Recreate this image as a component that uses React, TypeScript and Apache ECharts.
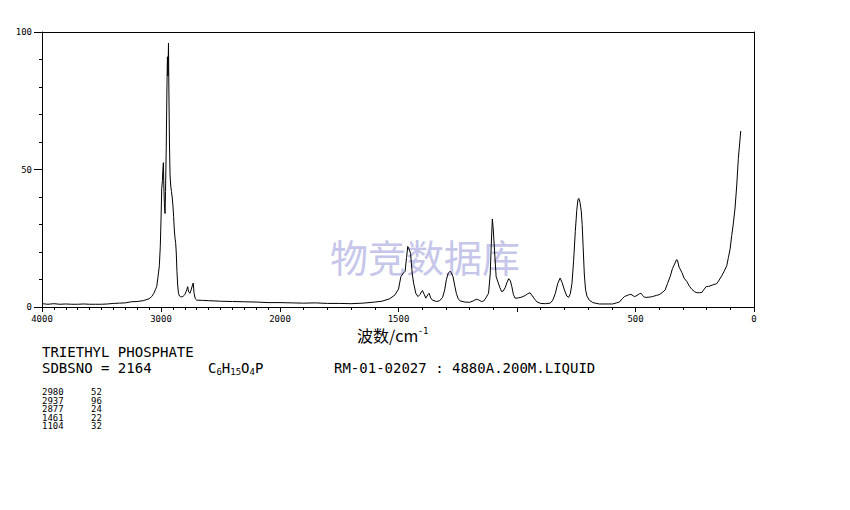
import React, { useEffect, useRef } from "react";
import * as echarts from "echarts";

// Raman spectrum of triethyl phosphate: [wavenumber cm-1, intensity]
const upperSpectrum: [number, number][] = [
  [4000, 1.2], [3950, 1.0], [3900, 1.2], [3850, 1.0], [3800, 1.1], [3750, 1.0], [3700, 1.0],
  [3650, 1.1], [3600, 1.0], [3550, 1.0], [3500, 1.0], [3450, 1.1], [3400, 1.3], [3350, 1.4],
  [3300, 1.5], [3250, 1.9], [3200, 2.0], [3150, 2.3], [3100, 3.0], [3078, 3.8], [3060, 5.0],
  [3045, 6.5], [3036, 7.4], [3025, 11], [3014, 15], [3006, 22], [3000, 31.6], [2994, 43],
  [2988, 46], [2984, 50], [2980, 52.5], [2976, 44], [2972, 38], [2966, 34], [2962, 42],
  [2956, 58], [2950, 80], [2946, 91], [2942, 84], [2937, 96], [2934, 80], [2929, 60],
  [2924, 48], [2918, 44], [2912, 42], [2906, 40], [2900, 37], [2894, 33], [2888, 28],
  [2882, 25], [2877, 23.5], [2872, 20], [2866, 13], [2860, 8], [2853, 5], [2845, 4],
  [2835, 3.7], [2826, 3.7], [2812, 4.0], [2800, 4.5], [2790, 5.5], [2782, 6.5], [2776, 7.4],
  [2768, 5.5], [2756, 5.0], [2745, 6.5], [2735, 8.0], [2729, 8.7], [2722, 5.0], [2712, 3.0],
  [2700, 2.5], [2650, 2.4], [2600, 2.3], [2500, 2.1], [2400, 2.0], [2300, 1.9], [2200, 1.8],
  [2100, 1.6], [2000, 1.6],
];

const lowerSpectrum: [number, number][] = [
  [2000, 1.6], [1950, 1.5], [1900, 1.4], [1850, 1.5], [1800, 1.3], [1750, 1.3], [1700, 1.2],
  [1650, 1.4], [1600, 1.8], [1570, 2.1], [1537, 3.0], [1515, 4.4], [1500, 6.5], [1490, 11],
  [1480, 12.3], [1472, 13], [1466, 18], [1461, 22], [1455, 21], [1449, 19.5], [1442, 12],
  [1436, 8.6], [1427, 5], [1418, 3.8], [1410, 4.5], [1399, 6], [1391, 4.5], [1385, 3.2],
  [1376, 4.5], [1371, 5], [1364, 3.3], [1357, 2.5], [1340, 2.0], [1326, 2.3], [1314, 3.5],
  [1305, 6.2], [1298, 10], [1290, 12.3], [1283, 13], [1277, 12.5], [1270, 11], [1262, 7.5],
  [1256, 5], [1248, 3], [1240, 2.2], [1220, 1.8], [1200, 1.7], [1185, 2.2], [1172, 2.8],
  [1162, 2.6], [1150, 2.0], [1140, 2.2], [1130, 3.5], [1120, 5], [1113, 12], [1108, 24],
  [1104, 32], [1100, 28], [1095, 20.7], [1088, 11], [1080, 9], [1072, 7], [1065, 5.6],
  [1058, 5.8], [1050, 7], [1042, 9], [1035, 10.3], [1028, 9.5], [1022, 7.5], [1015, 4.5],
  [1008, 3.2], [995, 3.3], [980, 3.6], [965, 4.2], [955, 4.8], [945, 5.2], [935, 4],
  [925, 2.8], [915, 1.8], [900, 1.3], [880, 1.2], [860, 1.4], [849, 2.5], [838, 5],
  [828, 8.6], [818, 10.5], [810, 9], [800, 6.2], [790, 4], [782, 3.5], [775, 4.8], [768, 8.6],
  [761, 17], [754, 27.5], [748, 35], [743, 39], [739, 39.5], [734, 38], [729, 35], [725, 30],
  [721, 22], [716, 12], [711, 6.5], [705, 4], [695, 2.5], [680, 1.6], [653, 1.1], [620, 1.1],
  [597, 1.1], [580, 1.5], [568, 1.8], [556, 3.0], [547, 3.8], [535, 4.2], [526, 4.5],
  [519, 4.6], [510, 4.1], [505, 3.8], [498, 4.0], [490, 4.4], [484, 4.8], [477, 5.0],
  [470, 4.2], [463, 3.6], [456, 3.5], [440, 3.6], [428, 3.8], [412, 4.2], [400, 4.5],
  [388, 5.2], [375, 6.2], [365, 8.5], [354, 11], [344, 14], [333, 16], [327, 17.2], [323, 17],
  [316, 14.5], [304, 12.5], [295, 10.5], [283, 9.2], [272, 7.5], [262, 6.4], [250, 5.5],
  [241, 5.2], [230, 5.2], [220, 5.3], [210, 6.5], [202, 7.4], [192, 7.5], [175, 8], [157, 8.5],
  [147, 9.8], [135, 11.5], [126, 13], [115, 15], [108, 18], [101, 21], [94, 26], [87, 30.5],
  [80, 36], [73, 44], [66, 54], [56, 64],
];

const upperTickLabels = [4000, 3000];
const lowerTickLabels = [2000, 1500, 500, 0];
const yTickLabels = [0, 50, 100];

const peakWavenumbers = ["2980", "2937", "2877", "1461", "1104"];
const peakIntensities = ["52", "96", "24", "22", "32"];

const compoundName = "TRIETHYL PHOSPHATE";
const sdbsLine = "SDBSNO = 2164";
const formulaRich = "C{s|6}H{s|15}O{s|4}P";
const conditionLine = "RM-01-02027 : 4880A.200M.LIQUID";
const axisTitle = "波数/cm{sup|-1}";
const watermark = "物竞数据库";

const MONO = "'DejaVu Sans Mono', monospace";
const CJK = "'Noto Sans CJK SC', sans-serif";

const labelStyle = {
  fontSize: 9,
  fontFamily: MONO,
  color: "#000",
};

export default function App() {
  const ref = useRef<HTMLDivElement>(null);

  useEffect(() => {
    if (!ref.current) return;
    const chart = echarts.init(ref.current, undefined, { renderer: "svg" });

    const bottomAxisBase = {
      type: "value",
      position: "bottom",
      inverse: true,
      axisLine: { show: true, onZero: false, lineStyle: { color: "#000", width: 1 } },
      axisTick: { show: true, length: 5, lineStyle: { color: "#000", width: 1 } },
      minorTick: { show: true, length: 3, lineStyle: { color: "#000", width: 1 } },
      splitLine: { show: false },
      minorSplitLine: { show: false },
    };
    const topAxisBase = {
      type: "value",
      position: "top",
      inverse: true,
      axisLine: { show: true, onZero: false, lineStyle: { color: "#000", width: 1 } },
      axisTick: { show: false },
      axisLabel: { show: false },
      splitLine: { show: false },
    };

    const option: any = {
      animation: false,
      backgroundColor: "#fff",
      grid: [
        { left: 42, top: 32, width: 238, height: 275 },
        { left: 280, top: 32, width: 474, height: 275 },
      ],
      xAxis: [
        {
          ...bottomAxisBase,
          gridIndex: 0,
          min: 2000,
          max: 4000,
          interval: 1000,
          minorTick: { ...bottomAxisBase.minorTick, splitNumber: 10 },
          axisLabel: {
            ...labelStyle,
            margin: 7,
            showMinLabel: true,
            showMaxLabel: true,
            formatter: (v: number) => (upperTickLabels.includes(v) ? String(v) : ""),
          },
        },
        {
          ...bottomAxisBase,
          gridIndex: 1,
          min: 0,
          max: 2000,
          interval: 500,
          minorTick: { ...bottomAxisBase.minorTick, splitNumber: 5 },
          axisLabel: {
            ...labelStyle,
            margin: 7,
            showMinLabel: true,
            showMaxLabel: true,
            formatter: (v: number) => (lowerTickLabels.includes(v) ? String(v) : ""),
          },
        },
        { ...topAxisBase, gridIndex: 0, min: 2000, max: 4000 },
        { ...topAxisBase, gridIndex: 1, min: 0, max: 2000 },
      ],
      yAxis: [
        {
          type: "value",
          gridIndex: 0,
          position: "left",
          min: 0,
          max: 100,
          interval: 50,
          axisLine: { show: true, onZero: false, lineStyle: { color: "#000", width: 1 } },
          axisTick: { show: true, length: 8, lineStyle: { color: "#000", width: 1 } },
          minorTick: { show: true, splitNumber: 5, length: 3, lineStyle: { color: "#000", width: 1 } },
          axisLabel: {
            ...labelStyle,
            margin: 10,
            showMinLabel: true,
            showMaxLabel: true,
            formatter: (v: number) => (yTickLabels.includes(v) ? String(v) : ""),
          },
          splitLine: { show: false },
          minorSplitLine: { show: false },
        },
        {
          type: "value",
          gridIndex: 1,
          position: "right",
          min: 0,
          max: 100,
          axisLine: { show: true, onZero: false, lineStyle: { color: "#000", width: 1 } },
          axisTick: { show: false },
          axisLabel: { show: false },
          splitLine: { show: false },
        },
      ],
      series: [
        {
          type: "line",
          xAxisIndex: 0,
          yAxisIndex: 0,
          data: upperSpectrum,
          showSymbol: false,
          symbol: "none",
          lineStyle: { color: "#000", width: 1 },
          z: 5,
        },
        {
          type: "line",
          xAxisIndex: 1,
          yAxisIndex: 1,
          data: lowerSpectrum,
          showSymbol: false,
          symbol: "none",
          lineStyle: { color: "#000", width: 1 },
          z: 5,
        },
      ],
      graphic: [
        {
          type: "text",
          x: 425,
          y: 255,
          z: 0,
          style: {
            text: watermark,
            font: `38px ${CJK}`,
            fill: "#c6c6ea",
            textAlign: "center",
            textVerticalAlign: "middle",
          },
        },
        {
          type: "text",
          x: 357,
          y: 335,
          style: {
            text: axisTitle,
            font: `16px ${CJK}`,
            fill: "#000",
            textAlign: "left",
            textVerticalAlign: "middle",
            rich: {
              sup: { fontSize: 9, fontFamily: MONO, verticalAlign: "top", lineHeight: 18 },
            },
          },
        },
        {
          type: "text",
          x: 42,
          y: 352,
          style: { text: compoundName, font: `14px ${MONO}`, fill: "#000", textVerticalAlign: "middle" },
        },
        {
          type: "text",
          x: 42,
          y: 368,
          style: { text: sdbsLine, font: `14px ${MONO}`, fill: "#000", textVerticalAlign: "middle" },
        },
        {
          type: "text",
          x: 208,
          y: 368,
          style: {
            text: formulaRich,
            font: `14px ${MONO}`,
            fill: "#000",
            textVerticalAlign: "middle",
            rich: {
              s: { fontSize: 9, fontFamily: MONO, verticalAlign: "bottom", padding: [8, 0, 0, 0] },
            },
          },
        },
        {
          type: "text",
          x: 334,
          y: 368,
          style: { text: conditionLine, font: `14px ${MONO}`, fill: "#000", textVerticalAlign: "middle" },
        },
        ...peakWavenumbers.map((w, i) => ({
          type: "text",
          x: 42,
          y: 392 + i * 8.6,
          style: { text: w, font: `9px ${MONO}`, fill: "#000", textVerticalAlign: "middle" },
        })),
        ...peakIntensities.map((v, i) => ({
          type: "text",
          x: 91,
          y: 392 + i * 8.6,
          style: { text: v, font: `9px ${MONO}`, fill: "#000", textVerticalAlign: "middle" },
        })),
      ],
    };

    chart.setOption(option);
    return () => chart.dispose();
  }, []);

  return (
    <div
      ref={ref}
      style={{ position: "fixed", left: 0, top: 0, width: 850, height: 510, background: "#fff" }}
    />
  );
}
